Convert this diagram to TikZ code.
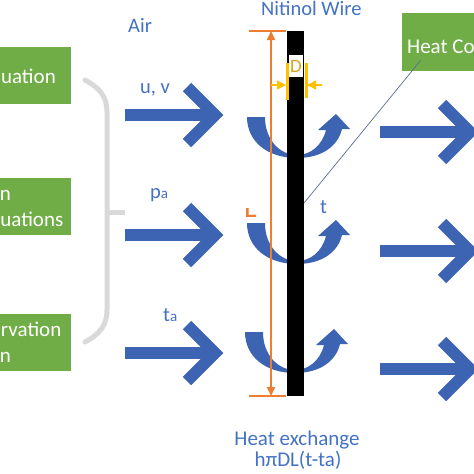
\documentclass[tikz,border=0pt]{standalone}
\usepackage{fontspec}
\setmainfont{Carlito}
\usetikzlibrary{arrows.meta}
\definecolor{txtblue}{HTML}{4472C4}
\definecolor{arrblue}{HTML}{3D64B3}
\definecolor{boxgreen}{HTML}{70AD47}
\definecolor{wireorange}{HTML}{ED7D31}
\definecolor{dimgold}{HTML}{FFC000}
\definecolor{dtext}{HTML}{D9A520}
\definecolor{bracegray}{HTML}{D9D9D9}
\definecolor{leadgray}{HTML}{5A6E90}
\tikzset{
  lbl/.style={font=\fontsize{20.5}{24}\selectfont, text=txtblue, inner sep=0pt},
  gbox/.style={fill=boxgreen, draw=none, inner sep=0pt},
  gtxt/.style={font=\fontsize{21}{24}\selectfont, text=white, inner sep=0pt},
  flow/.style={draw=arrblue, line width=12pt},
  chev/.style={flow, line join=miter, miter limit=10},
  flowarrow/.pic={
    \draw[flow] (0,0) -- (90,0);
    \draw[chev] (62,-28) -- (90,0) -- (62,28);
  },
  swirl/.pic={
    \fill[arrblue] (0,0) .. controls (0,25) and (21,41) .. (50,41)
      .. controls (75,41) and (91,29) .. (95,12) -- (103,12) -- (89,-3) -- (71,13) -- (79,13)
      .. controls (75,29) and (63,38) .. (50,38)
      .. controls (33,38) and (18,23) .. (18,0) -- cycle;
  },
  dimline/.style={draw=wireorange, line width=1.8pt},
  goldline/.style={draw=dimgold, line width=3pt},
}
\begin{document}
\begin{tikzpicture}[x=1pt,y=-1pt]
\useasboundingbox (0,0) rectangle (474,474);
\fill[white] (0,0) rectangle (474,474);
\clip (0,0) rectangle (474,474);

% green boxes
\node[gbox, anchor=north west, minimum width=76pt, minimum height=57pt] (eqA) at (-5,47) {};
\node[gtxt, anchor=base east] (eqAt) at (56,83) {uation};
\node[gbox, anchor=north west, minimum width=76pt, minimum height=57pt] (eqB) at (-5,178) {};
\node[gtxt, anchor=base east] (eqBt1) at (11,200) {n};
\node[gtxt, anchor=base east] (eqBt2) at (63.5,226) {uations};
\node[gbox, anchor=north west, minimum width=76pt, minimum height=57pt] (eqC) at (-5,314) {};
\node[gtxt, anchor=base east] (eqCt1) at (61.5,336) {rvation};
\node[gtxt, anchor=base east] (eqCt2) at (11,362) {n};
\node[gbox, anchor=north west, minimum width=80pt, minimum height=58pt] (hc) at (402,13) {};
\node[gtxt, anchor=base west] (hct) at (407,53) {Heat Co};

% gray bracket
\draw[bracegray, line width=5pt, line cap=round] (85,80) .. controls (100,88) and (107,97) .. (107,112) -- (107,310) .. controls (107,325) and (100,334) .. (85,342);
\draw[bracegray, line width=5pt] (107,212) -- (125,212);

% straight flow arrows
\pic at (125,115) {flowarrow};
\pic at (125,235) {flowarrow};
\pic at (125,353) {flowarrow};
\pic at (380,132) {flowarrow};
\pic at (380,251) {flowarrow};
\pic at (380,369) {flowarrow};

% curved arrows around the wire
\pic at (247,117) {swirl};
\pic at (247,223) {swirl};
\pic at (245,332) {swirl};

% wire
\node[fill=black, inner sep=0pt, minimum width=17pt, minimum height=365pt, anchor=north west] (wire) at (287,31) {};

% leader line
\coordinate (hcfoot) at (421,60);
\coordinate (wirept) at (304,203);
\draw[leadgray, line width=0.7pt] (hcfoot) -- (wirept);

% length dimension L
\draw[dimline] (249,31) -- (286,31);
\draw[dimline] (249,396) -- (286,396);
\coordinate (Ltop) at (271,31);
\coordinate (Lbot) at (271,396);
\draw[dimline, {Triangle[width=8pt,length=9pt]}-{Triangle[width=8pt,length=9pt]}] (Ltop) -- (Lbot);
\begin{scope}
\clip (240,208) rectangle (268,222);
\node[font=\fontsize{30}{34}\selectfont, text=wireorange, inner sep=0pt, anchor=base west] (Llab) at (244,217) {L};
\end{scope}

% diameter dimension D
\node[fill=white, inner sep=0pt, minimum width=14pt, minimum height=22pt, text=dtext, font=\fontsize{19}{22}\selectfont] (dbox) at (296,66) {D};
\draw[goldline] (287,63) -- (287,100);
\draw[goldline] (306,63) -- (306,98);
\coordinate (dl0) at (271,85);
\coordinate (dl1) at (286,85);
\coordinate (dr0) at (322,85);
\coordinate (dr1) at (307,85);
\draw[draw=dimgold, line width=1.5pt, -{Triangle[width=9pt,length=9pt]}] (dl0) -- (dl1);
\draw[draw=dimgold, line width=1.5pt, -{Triangle[width=9pt,length=9pt]}] (dr0) -- (dr1);

% labels
\node[lbl, anchor=base west] (air) at (128,32) {Air};
\node[lbl, anchor=base west] (nit) at (261,15) {Nitinol Wire};
\node[lbl, anchor=base west] (uv) at (140,93) {u, v};
\node[lbl, anchor=base west] (pa) at (150,198) {p{\fontsize{15}{16}\selectfont a}};
\node[lbl, anchor=base west] (ta) at (163,321) {t{\fontsize{15}{16}\selectfont a}};
\node[lbl, anchor=base west] (tw) at (320,213) {t};
\node[lbl, font=\fontsize{21}{21}\selectfont, anchor=base] (hx1) at (297,445) {Heat exchange};
\node[lbl, font=\fontsize{21}{21}\selectfont, anchor=base] (hx2) at (298,466) {hπDL(t-ta)};
\end{tikzpicture}
\end{document}
